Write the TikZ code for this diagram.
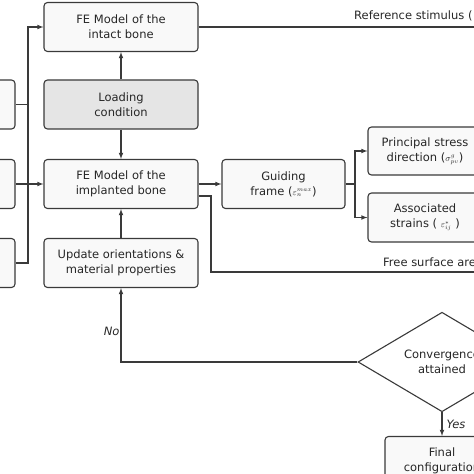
\documentclass[tikz,border=0pt]{standalone}
\usepackage{amssymb}
\usepackage{xcolor}
\usepackage{fontspec}
\setmainfont{DejaVu Sans}
\usepackage{tikz}
\usetikzlibrary{arrows,shapes.geometric}
\definecolor{edge}{HTML}{3A3A3A}
\tikzstyle{block}=[rectangle,rounded corners=3.5bp,draw=edge,fill=gray!5,line width=1.1bp,minimum height=49bp,align=center,inner sep=0pt,text=black!85]
\tikzstyle{loadblock}=[block,fill=gray!20]
\tikzstyle{decision}=[diamond,draw=edge,fill=white,line width=1.1bp,minimum width=168bp,minimum height=82bp,inner sep=0pt,align=center,text=black!85]
\tikzstyle{link}=[draw=edge,line width=1.1bp]
\tikzstyle{note}=[text=black!85,inner sep=1bp]
\newcommand{\smallmath}[1]{{\fontsize{9bp}{10bp}\selectfont$#1$}}

\begin{document}
\begin{tikzpicture}[x=1bp,y=-1bp,font=\fontsize{11.5bp}{15bp}\selectfont,>=latex]
        \clip (0,0) rectangle (474,474);

        \node at (-17,104.5) [block,minimum width=64bp] (inA) {};
        \node at (-17,184)   [block,minimum width=64bp] (inB) {};
        \node at (-17,263)   [block,minimum width=64bp] (inC) {};

        \node at (121,27)    [block,minimum width=154bp] (intact) {FE Model of the\\intact bone};
        \node at (121,104.5) [loadblock,minimum width=154bp] (loading) {Loading\\condition};
        \node at (121,184)   [block,minimum width=154bp] (implanted) {FE Model of the\\implanted bone};
        \node at (121,263)   [block,minimum width=154bp] (update) {Update orientations \&\\material properties};

        \node at (283.5,184) [block,minimum width=123bp] (guiding) {Guiding\\frame (\smallmath{\varepsilon_n^{max}})};
        \node at (425,151)   [block,minimum width=114bp,minimum height=48bp] (stress) {Principal stress\\direction (\smallmath{\sigma_{pv}^{g}})};
        \node at (425,217.5) [block,minimum width=114bp] (strains) {Associated\\strains ( \smallmath{\varepsilon_{ij}^{*}} )};

        \node at (442,362)   [decision] (conv) {Convergence\\attained};
        \node at (442,461)   [block,minimum width=114bp] (final) {Final\\configuration};

        \coordinate (split) at (28,27);
        \coordinate (ref) at (480,27);
        \coordinate (fs) at (211,272);
        \coordinate (fsend) at (480,272);
        \coordinate (gsplit) at (355,184);
        \coordinate (back) at (121,362);

        \draw [link,->] (inC.east) -| (split) -- (intact.west);
        \draw [link] (inA.east) -- (inA.east -| split);
        \draw [link,->] (inB) -- (implanted);

        \draw [link,->] (loading) -- (intact);
        \draw [link,->] (loading) -- (implanted);
        \draw [link,->] (update) -- (implanted);

        \draw [link] (intact.east) -- (ref);
        \node at (353,16) [note,anchor=west] (reflabel) {Reference stimulus (};

        \draw [link,->] (implanted) -- (guiding);
        \draw [link] ([yshift=-12bp]implanted.east) -| (fs) -- (fsend);
        \node at (382,262) [note,anchor=west] (fslabel) {Free surface area};

        \draw [link] (guiding) -- (gsplit);
        \draw [link,->] (gsplit) |- (stress.west);
        \draw [link,->] (gsplit) |- (strains.west);

        \draw [link,->] (conv.west) -- (back) -- node [note,left,font=\fontsize{11.5bp}{15bp}\selectfont\itshape,pos=0.42] {No} (update.south);
        \draw [link,->] (conv.south) -- node [note,right,xshift=3bp,font=\fontsize{11.5bp}{15bp}\selectfont\itshape] {Yes} (final.north);
      \end{tikzpicture}
\end{document}
